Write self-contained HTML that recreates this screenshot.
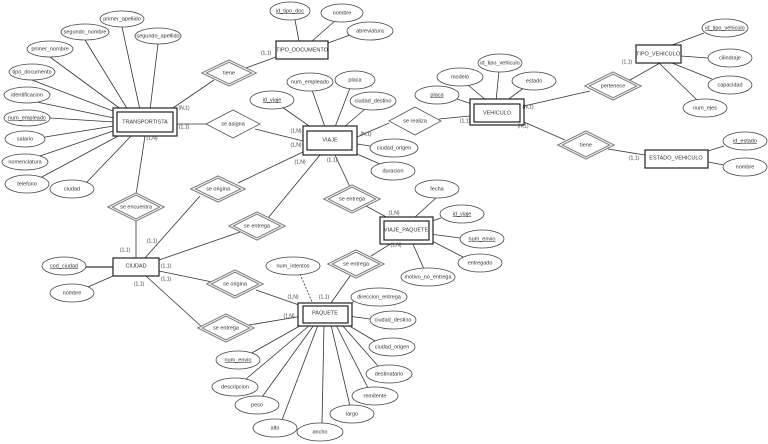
<!DOCTYPE html>
<html><head><meta charset="utf-8"><style>
html,body{margin:0;padding:0;background:#fff;}
svg{display:block;}
text{font-family:"Liberation Sans",sans-serif;font-size:5.5px;fill:#333;text-anchor:middle;dominant-baseline:middle;}
.l{stroke:#333;stroke-width:0.8;fill:none;}
.e{fill:#fff;stroke:#444;stroke-width:0.8;}
.r{fill:#fff;stroke:#222;stroke-width:1.2;}
.d1{fill:#fff;stroke:#777;stroke-width:3;}
.d2{fill:none;stroke:#fff;stroke-width:1;}
.ds{fill:#fff;stroke:#555;stroke-width:0.8;}
.c{font-size:5px;}
</style></head><body>
<svg width="768" height="444" viewBox="0 0 768 444">
<!-- lines -->
<g class="l">
<!-- TRANSPORTISTA attrs -->
<line x1="122" y1="27" x2="140" y2="110"/>
<line x1="85" y1="40" x2="128" y2="110"/>
<line x1="158" y1="44" x2="150" y2="110"/>
<line x1="50" y1="57" x2="122" y2="110"/>
<line x1="32" y1="80" x2="118" y2="113"/>
<line x1="27" y1="100" x2="114" y2="118"/>
<line x1="50" y1="118" x2="114" y2="122"/>
<line x1="45" y1="137" x2="114" y2="126"/>
<line x1="40" y1="156" x2="116" y2="130"/>
<line x1="40" y1="178" x2="122" y2="134"/>
<line x1="86" y1="183" x2="132" y2="135"/>
<!-- TIPO_DOC attrs -->
<line x1="295" y1="20" x2="299" y2="41"/>
<line x1="335" y1="21" x2="312" y2="41"/>
<line x1="350" y1="35" x2="328" y2="43"/>
<!-- VIAJE attrs -->
<line x1="282" y1="107" x2="312" y2="128"/>
<line x1="312" y1="90" x2="325" y2="127"/>
<line x1="350" y1="88" x2="335" y2="127"/>
<line x1="365" y1="109" x2="344" y2="127"/>
<line x1="370" y1="146" x2="357" y2="144"/>
<line x1="380" y1="164" x2="350" y2="151"/>
<!-- VEHICULO attrs -->
<line x1="457" y1="99" x2="472" y2="104"/>
<line x1="468" y1="85" x2="487" y2="101"/>
<line x1="499" y1="71" x2="496" y2="101"/>
<line x1="525" y1="87" x2="506" y2="101"/>
<!-- TIPO_VEH attrs -->
<line x1="704" y1="33" x2="672" y2="45"/>
<line x1="708" y1="58" x2="681" y2="56"/>
<line x1="712" y1="79" x2="672" y2="63"/>
<line x1="697" y1="100" x2="659" y2="63"/>
<!-- ESTADO attrs -->
<line x1="724" y1="146" x2="708" y2="151"/>
<line x1="724" y1="165" x2="708" y2="162"/>
<!-- VIAJE_PAQUETE attrs -->
<line x1="437" y1="197" x2="414" y2="218"/>
<line x1="441" y1="218" x2="429" y2="222"/>
<line x1="460" y1="238" x2="430" y2="234"/>
<line x1="463" y1="257" x2="430" y2="240"/>
<line x1="424" y1="269" x2="412" y2="242"/>
<!-- CIUDAD attrs -->
<line x1="86" y1="267" x2="113" y2="267" style="stroke-width:1.3"/>
<line x1="88" y1="287" x2="113" y2="276"/>
<!-- PAQUETE attrs -->
<line x1="300" y1="274" x2="313" y2="304" stroke-dasharray="2,1.5"/>
<line x1="355" y1="300" x2="348" y2="307"/>
<line x1="370" y1="319" x2="348" y2="316"/>
<line x1="375" y1="341" x2="346" y2="324"/>
<line x1="378" y1="366" x2="342" y2="325"/>
<line x1="368" y1="388" x2="336" y2="325"/>
<line x1="350" y1="406" x2="331" y2="325"/>
<line x1="322" y1="424" x2="324" y2="325"/>
<line x1="282" y1="420" x2="318" y2="325"/>
<line x1="262" y1="397" x2="314" y2="325"/>
<line x1="246" y1="379" x2="310" y2="325"/>
<line x1="250" y1="354" x2="305" y2="323"/>
<!-- relationships -->
<line x1="170" y1="110" x2="214" y2="80"/>
<line x1="246" y1="68" x2="276" y2="57"/>
<line x1="177" y1="124" x2="206" y2="124"/>
<line x1="255" y1="129" x2="303" y2="141"/>
<line x1="145" y1="136" x2="136" y2="195"/>
<line x1="136" y1="220" x2="136" y2="258"/>
<line x1="357" y1="137" x2="389" y2="123"/>
<line x1="439" y1="119" x2="470" y2="116"/>
<line x1="524" y1="106" x2="590" y2="91"/>
<line x1="630" y1="80" x2="660" y2="63"/>
<line x1="524" y1="122" x2="565" y2="140"/>
<line x1="608" y1="149" x2="645" y2="155"/>
<line x1="303" y1="152" x2="238" y2="183"/>
<line x1="200" y1="196" x2="145" y2="258"/>
<line x1="320" y1="155" x2="268" y2="218"/>
<line x1="240" y1="232" x2="159" y2="260"/>
<line x1="335" y1="155" x2="350" y2="187"/>
<line x1="366" y1="206" x2="390" y2="219"/>
<line x1="392" y1="243" x2="371" y2="256"/>
<line x1="350" y1="276" x2="331" y2="303"/>
<line x1="159" y1="271" x2="212" y2="282"/>
<line x1="256" y1="290" x2="299" y2="305"/>
<line x1="146" y1="276" x2="203" y2="328"/>
<line x1="249" y1="325" x2="303" y2="316"/>
</g>
<!-- entities -->
<g>
<rect class="r" x="113" y="108" width="64" height="28"/><rect class="r" x="117" y="112" width="56" height="20"/>
<text x="145" y="122">TRANSPORTISTA</text>
<rect class="r" x="276" y="41" width="52" height="18"/><text x="302" y="50">TIPO_DOCUMENTO</text>
<rect class="r" x="303" y="126" width="54" height="29"/><rect class="r" x="307" y="131" width="45" height="19"/>
<text x="330" y="140">VIAJE</text>
<rect class="r" x="470" y="99" width="54" height="26"/><rect class="r" x="474" y="104" width="46" height="18"/>
<text x="497" y="113">VEHICULO</text>
<rect class="r" x="636" y="45" width="45" height="18"/><text x="658" y="54">TIPO_VEHICULO</text>
<rect class="r" x="645" y="150" width="63" height="18"/><text x="676" y="158">ESTADO_VEHICULO</text>
<rect class="r" x="113" y="258" width="46" height="18"/><text x="136" y="266">CIUDAD</text>
<rect class="r" x="380" y="217" width="53" height="27"/><rect class="r" x="384" y="221" width="45" height="19"/>
<text x="406" y="230">VIAJE_PAQUETE</text>
<rect class="r" x="298" y="303" width="54" height="23"/><rect class="r" x="303" y="306" width="45" height="17"/>
<text x="325" y="313">PAQUETE</text>
</g>
<!-- relationships diamonds -->
<g>
<polygon class="d1" points="204,73 229,61 254,73 229,85"/><polygon class="d2" points="204,73 229,61 254,73 229,85"/><text x="229" y="73">tiene</text>
<polygon class="ds" points="206,124 233,110 260,124 233,138"/><text x="233" y="124">se asigna</text>
<polygon class="ds" points="389,121 415,107 441,121 415,135"/><text x="415" y="121">se realiza</text>
<polygon class="d1" points="587,86 613,73 639,86 613,99"/><polygon class="d2" points="587,86 613,73 639,86 613,99"/><text x="613" y="86">pertenece</text>
<polygon class="d1" points="560,145 586,132 612,145 586,158"/><polygon class="d2" points="560,145 586,132 612,145 586,158"/><text x="586" y="145">tiene</text>
<polygon class="d1" points="110,207 136,194 162,207 136,220"/><polygon class="d2" points="110,207 136,194 162,207 136,220"/><text x="136" y="207">se encuentra</text>
<polygon class="d1" points="193,189 218,177 243,189 218,201"/><polygon class="d2" points="193,189 218,177 243,189 218,201"/><text x="218" y="189">se origina</text>
<polygon class="d1" points="231,226 257,213 283,226 257,239"/><polygon class="d2" points="231,226 257,213 283,226 257,239"/><text x="257" y="226">se entrega</text>
<polygon class="d1" points="326,199 352,186 378,199 352,212"/><polygon class="d2" points="326,199 352,186 378,199 352,212"/><text x="352" y="199">se entrega</text>
<polygon class="d1" points="330,264 356,251 382,264 356,277"/><polygon class="d2" points="330,264 356,251 382,264 356,277"/><text x="356" y="264">se entrega</text>
<polygon class="d1" points="209,284 235,271 261,284 235,297"/><polygon class="d2" points="209,284 235,271 261,284 235,297"/><text x="235" y="284">se origina</text>
<polygon class="d1" points="200,328 226,315 252,328 226,341"/><polygon class="d2" points="200,328 226,315 252,328 226,341"/><text x="226" y="328">se entrega</text>
</g>
<!-- attributes -->
<g>
<ellipse class="e" cx="122" cy="19" rx="22" ry="8"/><text x="122" y="19">primer_apellido</text>
<ellipse class="e" cx="85" cy="32" rx="24" ry="8"/><text x="85" y="32">segundo_nombre</text>
<ellipse class="e" cx="158" cy="36" rx="23" ry="8"/><text x="158" y="36">segundo_apellido</text>
<ellipse class="e" cx="50" cy="49" rx="23" ry="8"/><text x="50" y="49">primer_nombre</text>
<ellipse class="e" cx="32" cy="72" rx="23" ry="8"/><text x="32" y="72">tipo_documento</text>
<ellipse class="e" cx="27" cy="95" rx="23" ry="8"/><text x="27" y="95">identificacion</text>
<ellipse class="e" cx="27" cy="118" rx="23" ry="8"/><text x="27" y="118" text-decoration="underline">num_empleado</text>
<ellipse class="e" cx="25" cy="139" rx="20" ry="8"/><text x="25" y="139">salario</text>
<ellipse class="e" cx="25" cy="162" rx="23" ry="8"/><text x="25" y="162">nomenclatura</text>
<ellipse class="e" cx="27" cy="184" rx="22" ry="9"/><text x="27" y="184">telefono</text>
<ellipse class="e" cx="72" cy="189" rx="22" ry="9"/><text x="72" y="189">ciudad</text>
<ellipse class="e" cx="290" cy="11" rx="20" ry="9"/><text x="290" y="11" text-decoration="underline">id_tipo_doc</text>
<ellipse class="e" cx="342" cy="13" rx="21" ry="9"/><text x="342" y="13">nombre</text>
<ellipse class="e" cx="370" cy="31" rx="23" ry="9"/><text x="370" y="31">abreviatura</text>
<ellipse class="e" cx="272" cy="100" rx="22" ry="9"/><text x="272" y="100" text-decoration="underline">id_viaje</text>
<ellipse class="e" cx="310" cy="82" rx="23" ry="9"/><text x="310" y="82">num_empleado</text>
<ellipse class="e" cx="355" cy="80" rx="20" ry="9"/><text x="355" y="80">placa</text>
<ellipse class="e" cx="373" cy="101" rx="23" ry="9"/><text x="373" y="101">ciudad_destino</text>
<ellipse class="e" cx="394" cy="148" rx="24" ry="9"/><text x="394" y="148">ciudad_origen</text>
<ellipse class="e" cx="393" cy="171" rx="22" ry="9"/><text x="393" y="171">duracion</text>
<ellipse class="e" cx="437" cy="95" rx="22" ry="9"/><text x="437" y="95" text-decoration="underline">placa</text>
<ellipse class="e" cx="460" cy="77" rx="23" ry="9"/><text x="460" y="77">modelo</text>
<ellipse class="e" cx="500" cy="63" rx="22" ry="9"/><text x="500" y="63">id_tipo_vehiculo</text>
<ellipse class="e" cx="534" cy="81" rx="22" ry="9"/><text x="534" y="81">estado</text>
<ellipse class="e" cx="725" cy="28" rx="23" ry="9"/><text x="725" y="28" text-decoration="underline">id_tipo_vehiculo</text>
<ellipse class="e" cx="730" cy="58" rx="22" ry="9"/><text x="730" y="58">cilindraje</text>
<ellipse class="e" cx="730" cy="85" rx="22" ry="9"/><text x="730" y="85">capacidad</text>
<ellipse class="e" cx="705" cy="108" rx="22" ry="9"/><text x="705" y="108">num_ejes</text>
<ellipse class="e" cx="745" cy="141" rx="22" ry="9"/><text x="745" y="141" text-decoration="underline">id_estado</text>
<ellipse class="e" cx="745" cy="167" rx="22" ry="9"/><text x="745" y="167">nombre</text>
<ellipse class="e" cx="437" cy="189" rx="22" ry="9"/><text x="437" y="189">fecha</text>
<ellipse class="e" cx="462" cy="214" rx="22" ry="9"/><text x="462" y="214" text-decoration="underline">id_viaje</text>
<ellipse class="e" cx="482" cy="239" rx="22" ry="9"/><text x="482" y="239" text-decoration="underline">num_envio</text>
<ellipse class="e" cx="480" cy="263" rx="22" ry="9"/><text x="480" y="263">entregado</text>
<ellipse class="e" cx="428" cy="277" rx="27" ry="9"/><text x="428" y="277">motivo_no_entrega</text>
<ellipse class="e" cx="64" cy="266" rx="22" ry="9"/><text x="64" y="266" text-decoration="underline">cod_ciudad</text>
<ellipse class="e" cx="72" cy="293" rx="22" ry="9"/><text x="72" y="293">nombre</text>
<ellipse class="e" cx="293" cy="266" rx="27" ry="9"/><text x="293" y="266">num_intentos</text>
<ellipse class="e" cx="379" cy="297" rx="28" ry="9"/><text x="379" y="297">direccion_entrega</text>
<ellipse class="e" cx="393" cy="320" rx="23" ry="9"/><text x="393" y="320">ciudad_destino</text>
<ellipse class="e" cx="392" cy="347" rx="23" ry="9"/><text x="392" y="347">ciudad_origen</text>
<ellipse class="e" cx="389" cy="374" rx="23" ry="9"/><text x="389" y="374">destinatario</text>
<ellipse class="e" cx="375" cy="396" rx="23" ry="9"/><text x="375" y="396">remitente</text>
<ellipse class="e" cx="352" cy="414" rx="22" ry="9"/><text x="352" y="414">largo</text>
<ellipse class="e" cx="320" cy="432" rx="23" ry="9"/><text x="320" y="432">ancho</text>
<ellipse class="e" cx="275" cy="428" rx="22" ry="9"/><text x="275" y="428">alto</text>
<ellipse class="e" cx="257" cy="405" rx="22" ry="9"/><text x="257" y="405">peso</text>
<ellipse class="e" cx="235" cy="387" rx="23" ry="9"/><text x="235" y="387">descripcion</text>
<ellipse class="e" cx="238" cy="360" rx="22" ry="9"/><text x="238" y="360" text-decoration="underline">num_envio</text>
</g>
<!-- cardinalities -->
<g>
<text class="c" x="184" y="108">(N,1)</text>
<text class="c" x="184" y="127">(1,1)</text>
<text class="c" x="152" y="138">(1,N)</text>
<text class="c" x="266" y="53">(1,1)</text>
<text class="c" x="296" y="131">(1,N)</text>
<text class="c" x="296" y="145">(1,N)</text>
<text class="c" x="300" y="162">(1,N)</text>
<text class="c" x="332" y="160">(1,1)</text>
<text class="c" x="366" y="134">(N,1)</text>
<text class="c" x="465" y="121">(1,1)</text>
<text class="c" x="528" y="107">(N,1)</text>
<text class="c" x="523" y="126">(N,1)</text>
<text class="c" x="627" y="62">(1,1)</text>
<text class="c" x="634" y="158">(1,1)</text>
<text class="c" x="394" y="213">(1,N)</text>
<text class="c" x="396" y="245">(1,N)</text>
<text class="c" x="125" y="250">(1,1)</text>
<text class="c" x="152" y="241">(1,1)</text>
<text class="c" x="166" y="266">(1,1)</text>
<text class="c" x="166" y="279">(1,1)</text>
<text class="c" x="139" y="284">(1,1)</text>
<text class="c" x="293" y="297">(1,N)</text>
<text class="c" x="289" y="316">(1,N)</text>
<text class="c" x="324" y="297">(1,1)</text>
</g>
</svg>
</body></html>
